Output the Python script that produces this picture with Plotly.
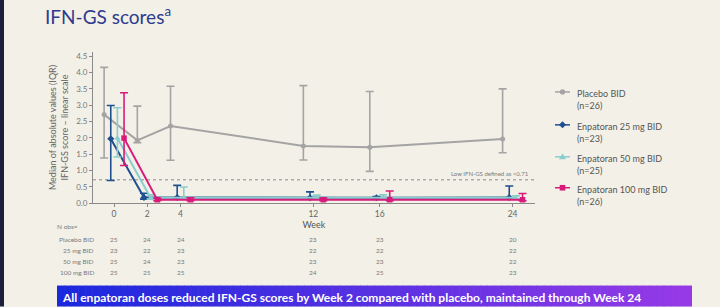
import plotly.graph_objects as go

# ---------------- data ----------------
weeks = [0, 2, 4, 12, 16, 24]
tick_vals = [0, 2, 4, 12, 16, 24]

placebo_med = [2.71, 1.92, 2.36, 1.75, 1.71, 1.96]
placebo_q1 = [1.38, 1.85, 1.31, 1.32, 0.97, 1.54]
placebo_q3 = [4.16, 2.97, 3.58, 3.60, 3.42, 3.50]

enp25_med = [1.97, 0.17, 0.17, 0.16, 0.16, 0.17]
enp25_q1 = [0.69, 0.12, 0.13, 0.12, 0.12, 0.12]
enp25_q3 = [2.99, 0.30, 0.54, 0.34, 0.20, 0.52]

enp50_med = [1.99, 0.16, 0.16, 0.16, 0.16, 0.16]
enp50_q1 = [1.41, 0.12, 0.13, 0.12, 0.12, 0.12]
enp50_q3 = [2.92, 0.25, 0.49, 0.24, 0.25, 0.22]

enp100_med = [1.99, 0.10, 0.10, 0.10, 0.10, 0.10]
enp100_q1 = [1.15, 0.07, 0.07, 0.07, 0.07, 0.07]
enp100_q3 = [3.38, 0.15, 0.16, 0.15, 0.37, 0.29]

series_names = ["Placebo BID", "Enpatoran 25 mg BID", "Enpatoran 50 mg BID", "Enpatoran 100 mg BID"]
series_n = ["(n=26)", "(n=23)", "(n=25)", "(n=26)"]

row_labels = ["Placebo BID", "25 mg BID", "50 mg BID", "100 mg BID"]
nobs_placebo = [25, 24, 24, 23, 23, 20]
nobs_25 = [23, 22, 23, 22, 22, 22]
nobs_50 = [25, 24, 23, 23, 23, 22]
nobs_100 = [25, 25, 25, 24, 25, 23]

threshold = 0.71
title_text = "IFN-GS scores<sup>a</sup>"
banner_text = "All enpatoran doses reduced IFN-GS scores by Week 2 compared with placebo, maintained through Week 24"

# ---------------- style ----------------
W, H = 720, 307
L, R, T, B = 93, 535, 52, 203.3
FONT = "Lato, 'Open Sans', sans-serif"
BG = "#f3f0e7"
colors = ["#a4a4a4", "#1f4f8f", "#8acdcd", "#d81b7a"]
symbols = ["circle", "diamond", "triangle-up", "square"]
offsets = [-0.6, -0.2, 0.2, 0.6]
XR = [-1.27, 25.35]
YR = [0, 4.63]


def px2x(px):
    return (px - L) / (R - L)


def py2y(py):
    return (B - py) / (B - T)


fig = go.Figure()

meds = [placebo_med, enp25_med, enp50_med, enp100_med]
q1s = [placebo_q1, enp25_q1, enp50_q1, enp100_q1]
q3s = [placebo_q3, enp25_q3, enp50_q3, enp100_q3]

for i in range(4):
    xs = [w + offsets[i] for w in weeks]
    med = meds[i]
    fig.add_trace(go.Scatter(
        x=xs, y=med, mode="lines+markers", name=series_names[i],
        line=dict(color=colors[i], width=2),
        marker=dict(symbol=symbols[i], size=5.5 if i else 5, color=colors[i]),
        error_y=dict(type="data", symmetric=False,
                     array=[q - m for q, m in zip(q3s[i], med)],
                     arrayminus=[m - q for q, m in zip(q1s[i], med)],
                     color=colors[i], thickness=1.6, width=4),
        showlegend=False,
    ))

# manual legend (symbol + text)
leg_py = [92, 125, 157, 188]
marker_paths = {
    "diamond": "M 0 3.5 L 3.5 0 L 0 -3.5 L -3.5 0 Z",
    "triangle-up": "M 0 3.5 L 3.5 -2.5 L -3.5 -2.5 Z",
    "square": "M -2.8 -2.8 L 2.8 -2.8 L 2.8 2.8 L -2.8 2.8 Z",
}
for i in range(4):
    yc = py2y(leg_py[i])
    fig.add_shape(type="line", xref="paper", yref="paper",
                  x0=px2x(555), x1=px2x(570), y0=yc, y1=yc,
                  line=dict(color=colors[i], width=1.5))
    if symbols[i] == "circle":
        fig.add_shape(type="circle", xref="paper", yref="paper",
                      xsizemode="pixel", ysizemode="pixel",
                      xanchor=px2x(562.5), yanchor=yc,
                      x0=-2.6, x1=2.6, y0=-2.6, y1=2.6,
                      fillcolor=colors[i], line=dict(width=0))
    else:
        fig.add_shape(type="path", xref="paper", yref="paper",
                      xsizemode="pixel", ysizemode="pixel",
                      xanchor=px2x(562.5), yanchor=yc,
                      path=marker_paths[symbols[i]],
                      fillcolor=colors[i], line=dict(width=0))
    fig.add_annotation(xref="paper", yref="paper", x=px2x(575), y=yc,
                       text=series_names[i] + "<br>" + series_n[i], showarrow=False,
                       xanchor="left", yanchor="top", yshift=6, align="left",
                       font=dict(size=9, color="#555555", family=FONT))

# threshold line
fig.add_shape(type="line", xref="x", yref="y", x0=XR[0], x1=XR[1],
              y0=threshold, y1=threshold,
              line=dict(color="#8a8a8a", width=1, dash="dot"), layer="below")
fig.add_annotation(xref="paper", yref="y", x=px2x(531), y=threshold,
                   text="Low IFN-GS defined as <0.71", showarrow=False,
                   xanchor="right", yanchor="bottom", yshift=1,
                   font=dict(size=6, color="#7a7a7a", family=FONT))

# title
fig.add_annotation(xref="paper", yref="paper", x=px2x(43), y=py2y(1),
                   text=title_text, showarrow=False, xanchor="left", yanchor="top",
                   font=dict(size=19, color="#2e3b8e", family=FONT))

# N obs table
fig.add_annotation(xref="paper", yref="paper", x=px2x(67), y=py2y(227),
                   text="N obs=", showarrow=False, xanchor="center", yanchor="middle",
                   font=dict(size=6.5, color="#7a7a7a", family=FONT))
nobs_rows = [nobs_placebo, nobs_25, nobs_50, nobs_100]
row_py = [240, 251, 261.5, 272.5]
for r in range(4):
    fig.add_annotation(xref="paper", yref="paper", x=px2x(96), y=py2y(row_py[r]),
                       text=row_labels[r], showarrow=False, xanchor="right", yanchor="middle",
                       font=dict(size=6.5, color="#7a7a7a", family=FONT))
    for w, n in zip(weeks, nobs_rows[r]):
        fig.add_annotation(xref="x", yref="paper", x=w, y=py2y(row_py[r]),
                           text=str(n), showarrow=False, xanchor="center", yanchor="middle",
                           font=dict(size=6.5, color="#7a7a7a", family=FONT))

# left dark frame edge
fig.add_shape(type="rect", xref="paper", yref="paper",
              x0=px2x(0), x1=px2x(4), y0=py2y(307), y1=py2y(0),
              fillcolor="#1b1f3b", line=dict(width=0), layer="below")

# banner gradient
bx0, bx1, by0, by1 = 57, 692, 286, 307
c0 = (26, 40, 222)
c1 = (150, 58, 230)
n_strips = 90
for k in range(n_strips):
    t = k / (n_strips - 1)
    c = tuple(int(round(c0[j] + (c1[j] - c0[j]) * t)) for j in range(3))
    xa = bx0 + (bx1 - bx0) * k / n_strips
    xb = bx0 + (bx1 - bx0) * (k + 1) / n_strips + 0.6
    fig.add_shape(type="rect", xref="paper", yref="paper",
                  x0=px2x(xa), x1=px2x(min(xb, bx1)), y0=py2y(by1), y1=py2y(by0),
                  fillcolor="rgb(%d,%d,%d)" % c, line=dict(width=0), layer="above")
fig.add_annotation(xref="paper", yref="paper", x=px2x(60), y=py2y(297.5),
                   text="<b>" + banner_text + "</b>", showarrow=False,
                   xanchor="left", yanchor="middle",
                   font=dict(size=12, color="white", family=FONT))

fig.update_layout(
    width=W, height=H,
    margin=dict(l=L, r=W - R, t=T, b=H - B),
    paper_bgcolor=BG, plot_bgcolor=BG,
    font=dict(family=FONT, color="#666666"),
    showlegend=False,
    xaxis=dict(range=XR, tickvals=tick_vals, ticktext=[str(v) for v in tick_vals],
               showgrid=False, zeroline=False, showline=True, linecolor="#8a8a8a",
               linewidth=1, ticks="outside", ticklen=3, tickcolor="#8a8a8a",
               tickfont=dict(size=8.5, color="#666666"),
               title=dict(text="Week", font=dict(size=9, color="#555555"), standoff=2)),
    yaxis=dict(range=YR, tickvals=[0, 0.5, 1, 1.5, 2, 2.5, 3, 3.5, 4, 4.5],
               ticktext=["0.0", "0.5", "1.0", "1.5", "2.0", "2.5", "3.0", "3.5", "4.0", "4.5"],
               showgrid=False, zeroline=False, showline=True, linecolor="#8a8a8a",
               linewidth=1, ticks="outside", ticklen=3, tickcolor="#8a8a8a",
               tickfont=dict(size=8, color="#777777"),
               title=dict(text="Median of absolute values (IQR)<br>IFN-GS score – linear scale",
                          font=dict(size=9, color="#666666"), standoff=6)),
)

fig.write_html("out.html")
